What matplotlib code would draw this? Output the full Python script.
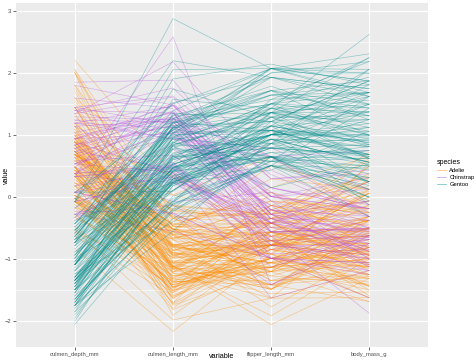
import numpy as np
import matplotlib
matplotlib.use('Agg')
import matplotlib.pyplot as plt
from matplotlib.lines import Line2D
from matplotlib.ticker import MultipleLocator

# measured variables, in plot order
variables = ['culmen_depth_mm', 'culmen_length_mm', 'flipper_length_mm', 'body_mass_g']
species = ['Adelie', 'Chinstrap', 'Gentoo']
colors = ['#FF8C00', '#B84CE0', '#008B8B']

# rows: (culmen_depth, culmen_length, flipper_length, body_mass)
adelie = [
    (18.7, 39.1, 181, 3750), (17.4, 39.5, 186, 3800), (18.0, 40.3, 195, 3250), (19.3, 36.7, 193, 3450),
    (20.6, 39.3, 190, 3650), (17.8, 38.9, 181, 3625), (19.6, 39.2, 195, 4675), (18.1, 34.1, 193, 3475),
    (20.2, 42.0, 190, 4250), (17.1, 37.8, 186, 3300), (17.3, 37.8, 180, 3700), (17.6, 41.1, 182, 3200),
    (21.2, 38.6, 191, 3800), (21.1, 34.6, 198, 4400), (17.8, 36.6, 185, 3700), (19.0, 38.7, 195, 3450),
    (20.7, 42.5, 197, 4500), (18.4, 34.4, 184, 3325), (21.5, 46.0, 194, 4200), (18.3, 37.8, 174, 3400),
    (18.7, 37.7, 180, 3600), (19.2, 35.9, 189, 3800), (18.1, 38.2, 185, 3950), (17.2, 38.8, 180, 3800),
    (18.9, 35.3, 187, 3800), (18.6, 40.6, 183, 3550), (17.9, 40.5, 187, 3200), (18.6, 37.9, 172, 3150),
    (18.9, 40.5, 180, 3950), (16.7, 39.5, 178, 3250), (18.1, 37.2, 178, 3900), (17.8, 39.5, 188, 3300),
    (18.9, 40.9, 184, 3900), (17.0, 36.4, 195, 3325), (21.1, 39.2, 196, 4150), (20.0, 38.8, 190, 3950),
    (18.5, 42.2, 180, 3550), (19.3, 37.6, 181, 3300), (19.1, 39.8, 184, 4650), (18.0, 36.5, 182, 3150),
    (18.4, 40.8, 195, 3900), (18.5, 36.0, 186, 3100), (19.7, 44.1, 196, 4400), (16.9, 37.0, 185, 3000),
    (18.8, 39.6, 190, 4600), (19.0, 41.1, 182, 3425), (18.9, 37.5, 179, 2975), (17.9, 36.0, 190, 3450),
    (21.2, 42.3, 191, 4150), (17.7, 39.6, 186, 3500), (18.9, 40.1, 188, 4300), (17.9, 35.0, 190, 3450),
    (19.5, 42.0, 200, 4050), (18.1, 34.5, 187, 2900), (18.6, 41.4, 191, 3700), (17.5, 39.0, 186, 3550),
    (18.8, 40.6, 193, 3800), (16.6, 36.5, 181, 2850), (19.1, 37.6, 194, 3750), (16.9, 35.7, 185, 3150),
    (21.1, 41.3, 195, 4400), (17.0, 37.6, 185, 3600), (18.2, 41.1, 192, 4050), (17.1, 36.4, 184, 2850),
    (18.0, 41.6, 192, 3950), (16.2, 35.5, 195, 3350), (19.1, 41.1, 188, 4100), (16.6, 35.9, 190, 3050),
    (19.4, 41.8, 198, 4450), (19.0, 33.5, 190, 3600), (18.4, 39.7, 190, 3900), (17.2, 39.6, 196, 3550),
    (18.9, 45.8, 197, 4150), (17.5, 35.5, 190, 3700), (18.5, 42.8, 195, 4250), (16.8, 40.9, 191, 3700),
    (19.4, 37.2, 184, 3900), (16.1, 36.2, 187, 3550), (19.1, 42.1, 195, 4000), (17.2, 34.6, 189, 3200),
    (17.6, 42.9, 196, 4700), (18.8, 36.7, 187, 3800), (19.4, 35.1, 193, 4200), (17.8, 37.3, 191, 3350),
    (20.3, 41.3, 194, 3550), (19.5, 36.3, 190, 3800), (18.6, 36.9, 189, 3500), (19.2, 38.3, 189, 3950),
    (18.8, 38.9, 190, 3600), (18.0, 35.7, 202, 3550), (18.1, 41.1, 205, 4300), (17.1, 34.0, 185, 3400),
    (18.1, 39.6, 186, 4450), (17.3, 36.2, 187, 3300), (18.9, 40.8, 208, 4300), (18.6, 38.1, 190, 3700),
    (18.5, 40.3, 196, 4350), (16.1, 33.1, 178, 2900), (18.5, 43.2, 192, 4100), (17.9, 35.0, 192, 3725),
    (20.0, 41.0, 203, 4725), (16.0, 37.7, 183, 3075), (20.0, 37.8, 190, 4250), (18.6, 37.9, 193, 2925),
    (18.9, 39.7, 184, 3550), (17.2, 38.6, 199, 3750), (20.0, 38.2, 190, 3900), (17.0, 38.1, 181, 3175),
    (19.0, 43.2, 197, 4775), (16.5, 38.1, 198, 3825), (20.3, 45.6, 191, 4600), (17.7, 39.7, 193, 3200),
    (19.5, 42.2, 197, 4275), (20.7, 39.6, 191, 3900), (18.3, 42.7, 196, 4075), (17.0, 38.6, 188, 2900),
    (20.5, 37.3, 199, 3775), (17.0, 35.7, 189, 3350), (18.6, 41.1, 189, 3325), (17.2, 36.2, 187, 3150),
    (19.8, 37.7, 198, 3500), (17.0, 40.2, 176, 3450), (18.5, 41.4, 202, 3875), (15.9, 35.2, 186, 3050),
    (19.0, 40.6, 199, 4000), (17.6, 38.8, 191, 3275), (18.3, 41.5, 195, 4300), (17.1, 39.0, 191, 3050),
    (18.0, 44.1, 210, 4000), (17.9, 38.5, 190, 3325), (19.2, 43.1, 197, 3500), (18.5, 36.8, 193, 3500),
    (18.5, 37.5, 199, 4475), (17.6, 38.1, 187, 3425), (17.5, 41.1, 190, 3900), (17.5, 35.6, 191, 3175),
    (20.1, 40.2, 200, 3975), (16.5, 37.0, 185, 3400), (17.9, 39.7, 193, 4250), (17.1, 40.2, 193, 3400),
    (17.2, 40.6, 187, 3475), (15.5, 32.1, 188, 3050), (17.0, 40.7, 190, 3725), (16.8, 37.3, 192, 3000),
    (18.7, 39.0, 185, 3650), (18.6, 39.2, 190, 4250), (18.4, 36.6, 184, 3475), (17.8, 36.0, 195, 3450),
    (18.1, 37.8, 193, 3750), (17.1, 36.0, 187, 3700), (18.5, 41.5, 201, 4000),
]

chinstrap = [
    (17.9, 46.5, 192, 3500), (19.5, 50.0, 196, 3900), (19.2, 51.3, 193, 3650), (18.7, 45.4, 188, 3525),
    (19.8, 52.7, 197, 3725), (17.8, 45.2, 198, 3950), (18.2, 46.1, 178, 3250), (18.2, 51.3, 197, 3750),
    (18.9, 46.0, 195, 4150), (19.9, 51.3, 198, 3700), (17.8, 46.6, 193, 3800), (20.3, 51.7, 194, 3775),
    (17.3, 47.0, 185, 3700), (18.1, 52.0, 201, 4050), (17.1, 45.9, 190, 3575), (19.6, 50.5, 201, 4050),
    (20.0, 50.3, 197, 3300), (17.8, 58.0, 181, 3700), (18.6, 46.4, 190, 3450), (18.2, 49.2, 195, 4400),
    (17.3, 42.4, 181, 3600), (17.5, 48.5, 191, 3400), (16.6, 43.2, 187, 2900), (19.4, 50.6, 193, 3800),
    (17.9, 46.7, 195, 3300), (19.0, 52.0, 197, 4150), (18.4, 50.5, 200, 3400), (19.0, 49.5, 200, 3800),
    (17.8, 46.4, 191, 3700), (20.0, 52.8, 205, 4550), (16.6, 40.9, 187, 3200), (20.8, 54.2, 201, 4300),
    (16.7, 42.5, 187, 3350), (18.8, 51.0, 203, 4100), (18.6, 49.7, 195, 3600), (16.8, 47.5, 199, 3900),
    (18.3, 47.6, 195, 3850), (20.7, 52.0, 210, 4800), (16.6, 46.9, 192, 2700), (19.9, 53.5, 205, 4500),
    (19.5, 49.0, 210, 3950), (17.5, 46.2, 187, 3650), (19.1, 50.9, 196, 3550), (17.0, 45.5, 196, 3500),
    (17.9, 50.9, 196, 3675), (18.5, 50.8, 201, 4450), (17.9, 50.1, 190, 3400), (19.6, 49.0, 212, 4300),
    (18.7, 51.5, 187, 3250), (17.3, 49.8, 198, 3675), (16.4, 48.1, 199, 3325), (19.0, 51.4, 201, 3950),
    (17.3, 45.7, 193, 3600), (19.7, 50.7, 203, 4050), (17.3, 42.5, 187, 3350), (18.8, 52.2, 197, 3450),
    (16.6, 45.2, 191, 3250), (19.9, 49.3, 203, 4050), (18.8, 50.2, 202, 3800), (19.4, 45.6, 194, 3525),
    (19.5, 51.9, 206, 3950), (16.5, 46.8, 189, 3650), (17.0, 45.7, 195, 3650), (19.8, 55.8, 207, 4000),
    (18.1, 43.5, 202, 3400), (18.2, 49.6, 193, 3775), (19.0, 50.8, 210, 4100), (18.7, 50.2, 198, 3775),
]

gentoo = [
    (13.2, 46.1, 211, 4500), (16.3, 50.0, 230, 5700), (14.1, 48.7, 210, 4450), (15.2, 50.0, 218, 5700),
    (14.5, 47.6, 215, 5400), (13.5, 46.5, 210, 4550), (14.6, 45.4, 211, 4800), (15.3, 46.7, 219, 5200),
    (13.4, 43.3, 209, 4400), (15.4, 46.8, 215, 5150), (13.7, 40.9, 214, 4650), (16.1, 49.0, 216, 5550),
    (13.7, 45.5, 214, 4650), (14.6, 48.4, 213, 5850), (14.6, 45.8, 210, 4200), (15.7, 49.3, 217, 5850),
    (13.5, 42.0, 210, 4150), (15.2, 49.2, 221, 6300), (14.5, 46.2, 209, 4800), (15.1, 48.7, 222, 5350),
    (14.3, 50.2, 218, 5700), (14.5, 45.1, 215, 5000), (14.5, 46.5, 213, 4400), (15.8, 46.3, 215, 5050),
    (13.1, 42.9, 215, 5000), (15.1, 46.1, 215, 5100), (14.3, 44.5, 216, 4100), (15.0, 47.8, 215, 5650),
    (14.3, 48.2, 210, 4600), (15.3, 50.0, 220, 5550), (15.3, 47.3, 222, 5250), (14.2, 42.8, 209, 4700),
    (14.5, 45.1, 207, 5050), (17.0, 59.6, 230, 6050), (14.8, 49.1, 220, 5150), (16.3, 48.4, 220, 5400),
    (13.7, 42.6, 213, 4950), (17.3, 44.4, 219, 5250), (13.6, 44.0, 208, 4350), (15.7, 48.7, 208, 5350),
    (13.7, 42.7, 208, 3950), (16.0, 49.6, 225, 5700), (13.7, 45.3, 210, 4300), (15.0, 49.6, 216, 4750),
    (15.9, 50.5, 222, 5550), (13.9, 43.6, 217, 4900), (13.9, 45.5, 210, 4200), (15.9, 50.5, 225, 5400),
    (13.3, 44.9, 213, 5100), (15.8, 45.2, 215, 5300), (14.2, 46.6, 210, 4850), (14.1, 48.5, 220, 5300),
    (14.4, 45.1, 210, 4400), (15.0, 50.1, 225, 5000), (14.4, 46.5, 217, 4900), (15.4, 45.0, 220, 5050),
    (13.9, 43.8, 208, 4300), (15.0, 45.5, 220, 5000), (14.5, 43.2, 208, 4450), (15.3, 50.4, 224, 5550),
    (13.8, 45.3, 208, 4200), (14.9, 46.2, 221, 5300), (13.9, 45.7, 214, 4400), (15.7, 54.3, 231, 5650),
    (14.2, 45.8, 219, 4700), (16.8, 49.8, 230, 5700), (14.4, 46.2, 214, 4650), (16.2, 49.5, 229, 5800),
    (14.2, 43.5, 220, 4700), (15.0, 50.7, 223, 5550), (15.0, 47.7, 216, 4750), (15.6, 46.4, 221, 5000),
    (15.6, 48.2, 221, 5100), (14.8, 46.5, 217, 5200), (15.0, 46.4, 216, 4700), (16.0, 48.6, 230, 5800),
    (14.2, 47.5, 209, 4600), (16.3, 51.1, 220, 6000), (13.8, 45.2, 215, 4750), (16.4, 45.2, 223, 5950),
    (14.5, 49.1, 212, 4625), (15.6, 52.5, 221, 5450), (14.6, 47.4, 212, 4725), (15.9, 50.0, 224, 5350),
    (13.8, 44.9, 212, 4750), (17.3, 50.8, 228, 5600), (14.4, 43.4, 218, 4600), (14.2, 51.3, 218, 5300),
    (14.0, 47.5, 212, 4875), (17.0, 52.1, 230, 5550), (15.0, 47.5, 218, 4950), (17.1, 52.2, 228, 5400),
    (14.5, 45.5, 212, 4750), (16.1, 49.5, 224, 5650), (14.7, 44.5, 214, 4850), (15.7, 50.8, 226, 5200),
    (15.8, 49.4, 216, 4925), (14.6, 46.9, 222, 4875), (14.4, 48.4, 203, 4625), (16.5, 51.1, 225, 5250),
    (15.0, 48.5, 219, 4850), (17.0, 55.9, 228, 5600), (15.5, 47.2, 215, 4975), (15.0, 49.1, 228, 5500),
    (13.8, 47.3, 216, 4725), (16.1, 46.8, 215, 5500), (14.7, 41.7, 210, 4700), (15.8, 53.4, 219, 5500),
    (14.0, 43.3, 208, 4575), (15.1, 48.1, 209, 5500), (15.2, 50.5, 216, 5000), (15.9, 49.8, 229, 5950),
    (15.2, 43.5, 213, 4650), (16.3, 51.5, 230, 5500), (14.1, 46.2, 217, 4375), (16.0, 55.1, 230, 5850),
    (15.7, 44.5, 217, 4875), (16.2, 48.8, 222, 6000), (13.7, 47.2, 214, 4925), (14.3, 46.8, 215, 4850),
    (15.7, 50.4, 222, 5750), (14.8, 45.2, 212, 5200), (16.1, 49.9, 213, 5400),
]

groups = [np.array(adelie, float), np.array(chinstrap, float), np.array(gentoo, float)]

# standardise each variable over all penguins (like ggparcoord scale = "std")
allrows = np.vstack(groups)
mu = allrows.mean(axis=0)
sd = allrows.std(axis=0, ddof=1)

plt.rcParams['font.family'] = ['Liberation Sans', 'DejaVu Sans']

fig = plt.figure(figsize=(4.74, 3.64), dpi=100)
ax = fig.add_axes([16 / 474, 1 - 347 / 364, (428 - 16) / 474, 344 / 364])
ax.set_facecolor('#EBEBEB')

x = np.arange(len(variables))
for rows, col in zip(groups, colors):
    z = (rows - mu) / sd
    for r in z:
        ax.plot(x, r, color=col, lw=0.45, alpha=0.42, zorder=3)

ax.set_xlim(-0.6, len(variables) - 0.4)
ax.margins(y=0.05)
ax.set_xticks(x)
ax.set_xticklabels(variables)
ax.yaxis.set_major_locator(MultipleLocator(1))
ax.yaxis.set_minor_locator(MultipleLocator(0.5))
ax.grid(which='major', color='white', lw=0.9, zorder=0)
ax.grid(which='minor', axis='y', color='white', lw=0.45, zorder=0)
ax.set_axisbelow(True)
for s in ax.spines.values():
    s.set_visible(False)
ax.tick_params(which='major', length=2, width=0.5, color='#333333', labelsize=4.2,
               labelcolor='#4D4D4D', pad=1.5)
ax.tick_params(which='minor', length=0)
ax.set_xlabel('variable', fontsize=5.2, va='center')
ax.set_ylabel('value', fontsize=5.2, va='center')
ax.xaxis.set_label_coords(0.5, (347 - 357) / 344)
ax.yaxis.set_label_coords((6 - 16) / 412, 0.5)

handles = [Line2D([], [], color=c, lw=0.6, alpha=0.5) for c in colors]
leg = fig.legend(handles, species, title='species', loc='upper left',
                 bbox_to_anchor=(433 / 474, 1 - 155 / 364), frameon=False,
                 fontsize=4.2, title_fontsize=5.0, handlelength=1.6,
                 handletextpad=0.5, labelspacing=0.35, borderpad=0.2)
leg._legend_box.align = 'left'

fig.savefig('out.png', dpi=100)
